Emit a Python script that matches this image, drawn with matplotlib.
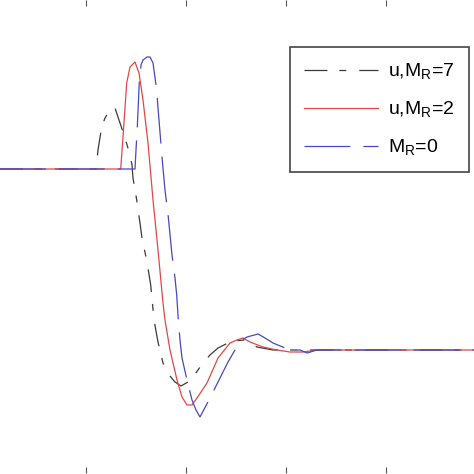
import matplotlib
matplotlib.use("Agg")
import matplotlib.pyplot as plt

plt.rcParams['font.family'] = ['Liberation Sans', 'DejaVu Sans']
plt.rcParams['mathtext.fontset'] = 'custom'
plt.rcParams['mathtext.rm'] = 'Liberation Sans'
plt.rcParams['lines.scale_dashes'] = False

# Data
x_m7 = [0.14, 1.10, 1.12, 1.157, 1.19, 1.22, 1.267, 1.29, 1.32, 1.39, 1.44, 1.46, 1.47,
        1.507, 1.54, 1.56, 1.61, 1.647, 1.68, 1.72, 1.77, 1.84, 1.89, 1.95, 2.02, 2.07,
        2.17, 2.24, 2.32, 2.46, 2.59, 2.71, 2.87, 4.88]
u_m7 = [0, 0, 0.19, 0.42, 0.51, 0.56, 0.62, 0.61, 0.52, 0.31, 0.14, 0.04, -0.09,
        -0.31, -0.54, -0.69, -0.93, -1.16, -1.51, -1.73, -1.94, -2.07, -2.13, -2.17, -2.13, -2.08,
        -1.94, -1.86, -1.79, -1.72, -1.71, -1.78, -1.81, -1.81]

x_m2 = [0.14, 1.347, 1.37, 1.407, 1.44, 1.49, 1.53, 1.57, 1.62, 1.67, 1.72, 1.77, 1.79,
        1.84, 1.91, 1.96, 2.01, 2.06, 2.11, 2.21, 2.32, 2.44, 2.51, 2.57, 2.64, 2.77,
        2.91, 3.04, 3.17, 3.31, 4.88]
u_m2 = [0, 0, 0.32, 0.86, 1.02, 1.07, 0.96, 0.69, 0.26, -0.31, -0.81, -1.34, -1.51,
        -1.81, -2.11, -2.28, -2.36, -2.36, -2.29, -2.14, -1.89, -1.74, -1.71, -1.69, -1.73, -1.78,
        -1.81, -1.83, -1.83, -1.81, -1.81]

x_m0 = [0.14, 1.49, 1.50, 1.513, 1.533, 1.55, 1.57, 1.61, 1.64, 1.67, 1.707, 1.72, 1.757,
        1.767, 1.79, 1.823, 1.86, 1.89, 1.907, 1.923, 1.94, 1.96, 2.01, 2.06, 2.10, 2.14,
        2.24, 2.34, 2.42, 2.49, 2.56, 2.61, 2.72, 2.79, 2.87, 3.04, 3.14, 3.21, 3.31, 4.88]
u_m0 = [0, 0, 0.19, 0.42, 0.87, 1.04, 1.09, 1.12, 1.12, 1.06, 0.79, 0.61, 0.16,
        0.04, -0.21, -0.48, -0.86, -1.09, -1.26, -1.51, -1.71, -1.89, -2.11, -2.31, -2.41, -2.48,
        -2.29, -2.09, -1.93, -1.81, -1.71, -1.68, -1.65, -1.69, -1.74, -1.81, -1.81, -1.84, -1.81, -1.81]

labels = ['u,M$_\\mathregular{R}$=7', 'u,M$_\\mathregular{R}$=2', 'M$_\\mathregular{R}$=0']
x_ticks = [1, 2, 3, 4]

fig = plt.figure(figsize=(4.74, 4.74), dpi=100)
ax = fig.add_axes([0.0, 1.0 / 474, 1.0, 473.0 / 474])

ax.plot(x_m7, u_m7, color='#3a3a3a', lw=0.9, dashes=(16.5, 8.6, 5, 9.4), label=labels[0])
ax.plot(x_m2, u_m2, color='#e04848', lw=0.9, label=labels[1])
ax.plot(x_m0, u_m0, color='#4848c0', lw=0.9, dashes=(33, 9.4), label=labels[2])

ax.set_xlim(0.14, 4.88)
ax.set_ylim(-3.04, 1.69)
ax.set_xticks(x_ticks)
ax.set_yticks([])
ax.tick_params(axis='x', direction='in', length=4.3, width=0.8, color='#555555',
               top=True, bottom=True, labelbottom=False, labeltop=False)
for s in ax.spines.values():
    s.set_visible(False)

leg = ax.legend(loc='upper right', bbox_to_anchor=(0.989, 0.90), borderaxespad=0,
                fontsize=14, handlelength=3.8, handletextpad=0.5, labelspacing=0.9,
                borderpad=0.75, fancybox=False, framealpha=1)
leg.get_frame().set_edgecolor('#444444')
leg.get_frame().set_linewidth(1.2)

fig.savefig('out.png', dpi=100)
